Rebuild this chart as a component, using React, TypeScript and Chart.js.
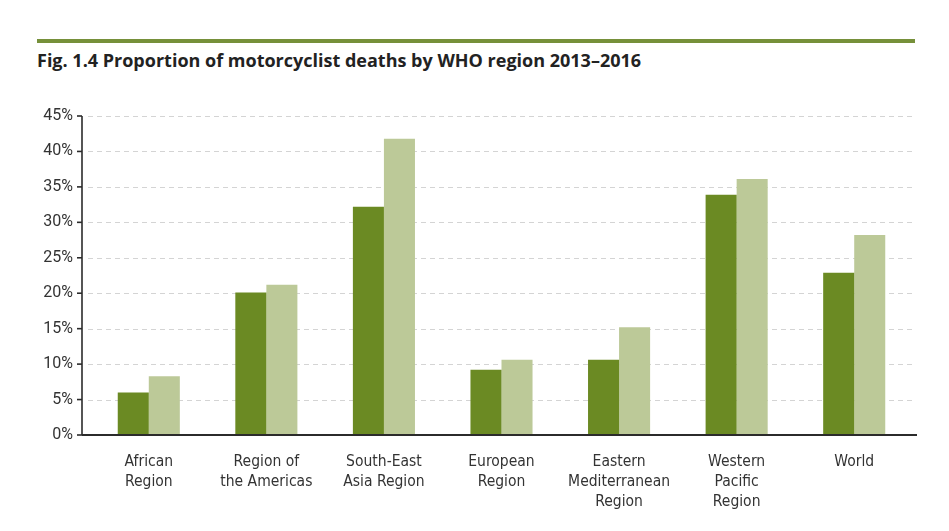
import { useEffect, useRef } from 'react'
import { Chart, registerables } from 'chart.js'

Chart.register(...registerables)

const regions = [
  ['African', 'Region'],
  ['Region of', 'the Americas'],
  ['South-East', 'Asia Region'],
  ['European', 'Region'],
  ['Eastern', 'Mediterranean', 'Region'],
  ['Western', 'Pacific', 'Region'],
  ['World'],
]
const series2013 = [6.0, 20.1, 32.2, 9.2, 10.6, 33.9, 22.9]
const series2016 = [8.3, 21.2, 41.8, 10.6, 15.2, 36.1, 28.2]
const yTicks = [0, 5, 10, 15, 20, 25, 30, 35, 40, 45]

const DARK = '#6b8a23'
const LIGHT = '#bcc998'

const axisLines = {
  id: 'axisLines',
  beforeDatasetsDraw(chart: any) {
    const { ctx, chartArea, scales } = chart
    const y = scales.y
    ctx.save()
    ctx.strokeStyle = '#d4d4d4'
    ctx.lineWidth = 1.2
    ctx.setLineDash([5, 4])
    yTicks.forEach((v) => {
      if (v === 0) return
      const py = Math.round(y.getPixelForValue(v)) + 0.5
      ctx.beginPath()
      ctx.moveTo(chartArea.left - 2, py)
      ctx.lineTo(chartArea.right + 2, py)
      ctx.stroke()
    })
    ctx.restore()
  },
  afterDatasetsDraw(chart: any) {
    const { ctx, chartArea, scales } = chart
    const y = scales.y
    const ax = chartArea.left - 8
    ctx.save()
    ctx.strokeStyle = '#2b2b2b'
    ctx.lineWidth = 1.6
    ctx.beginPath()
    ctx.moveTo(ax, y.getPixelForValue(45))
    ctx.lineTo(ax, chartArea.bottom)
    ctx.stroke()
    yTicks.forEach((v) => {
      const py = y.getPixelForValue(v)
      ctx.beginPath()
      ctx.moveTo(ax - 5, py)
      ctx.lineTo(ax, py)
      ctx.stroke()
    })
    ctx.lineWidth = 2
    ctx.beginPath()
    ctx.moveTo(ax, chartArea.bottom)
    ctx.lineTo(chartArea.right + 4, chartArea.bottom)
    ctx.stroke()
    ctx.restore()
  },
}

export default function App() {
  const chartRef = useRef<HTMLCanvasElement>(null)

  useEffect(() => {
    if (!chartRef.current) return
    const chart = new Chart(chartRef.current, {
      type: 'bar',
      data: {
        labels: regions,
        datasets: [
          { label: '2013', data: series2013, backgroundColor: DARK },
          { label: '2016', data: series2016, backgroundColor: LIGHT },
        ],
      },
      options: {
        animation: false,
        responsive: true,
        maintainAspectRatio: false,
        layout: { padding: { top: 16, right: 28, left: 0, bottom: 0 } },
        plugins: {
          legend: { display: false },
          tooltip: { enabled: false },
        },
        datasets: {
          bar: { categoryPercentage: 0.528, barPercentage: 1 },
        },
        scales: {
          x: {
            grid: { display: false, drawTicks: false },
            border: { display: false },
            ticks: {
              maxRotation: 0,
              autoSkip: false,
              padding: 17,
              color: '#333',
              font: { family: '"DejaVu Sans Condensed", "Liberation Sans", sans-serif', size: 15.5, lineHeight: 1.3 },
            },
            afterFit(scale: any) {
              scale.height = 88
              scale.paddingLeft = 0
              scale.paddingRight = 0
            },
          },
          y: {
            min: 0,
            max: 45,
            grid: { display: false, drawTicks: false },
            border: { display: false },
            ticks: {
              stepSize: 5,
              padding: 17,
              color: '#333',
              font: { family: 'Roboto, sans-serif', size: 16 },
              callback: (v: any) => v + '%',
            },
            afterFit(scale: any) {
              scale.width = 82
              scale.paddingTop = 0
              scale.paddingBottom = 0
            },
          },
        },
      },
      plugins: [axisLines],
    })
    return () => {
      chart.destroy()
    }
  }, [])

  return (
    <div style={{ position: 'relative', width: 933, height: 515 }}>
      <div
        style={{
          position: 'absolute',
          left: 29,
          top: 31,
          width: 878,
          height: 4,
          background: '#76903a',
        }}
      />
      <div
        style={{
          position: 'absolute',
          left: 29,
          top: 40,
          fontFamily: '"Open Sans", sans-serif',
          fontWeight: 700,
          fontSize: 18,
          color: '#222',
          whiteSpace: 'nowrap',
          lineHeight: '24px',
        }}
      >
        Fig. 1.4 Proportion of motorcyclist deaths by WHO region 2013–2016
      </div>
      <div style={{ position: 'absolute', left: 0, top: 92, width: 933, height: 423 }}>
        <canvas ref={chartRef} />
      </div>
    </div>
  )
}
